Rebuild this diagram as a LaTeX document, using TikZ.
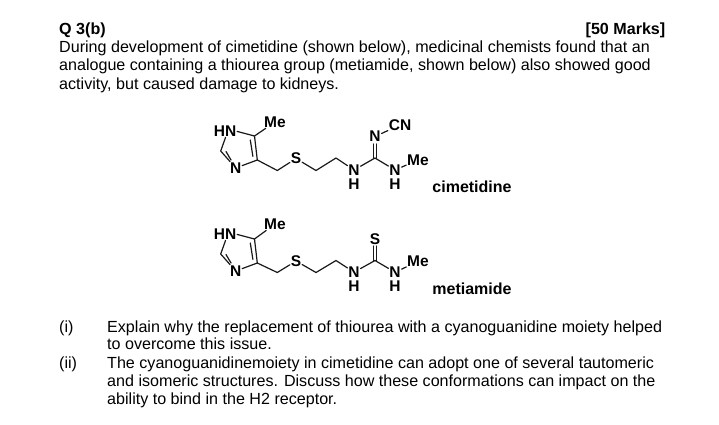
\documentclass[tikz,border=0pt]{standalone}
\usepackage{fontspec}
\setmainfont{Liberation Sans}
\usetikzlibrary{calc}
\tikzset{
  x=1pt,y=-1pt,
  txt/.style={anchor=base west,inner sep=0pt,font=\fontsize{16.1}{18}\selectfont},
  txtb/.style={txt,font=\fontsize{16.1}{18}\selectfont\bfseries},
  lab/.style={anchor=base,inner sep=0pt,font=\fontsize{16}{18}\selectfont\bfseries},
  atom/.style={inner sep=0pt,outer sep=1pt,font=\fontsize{15.5}{15.5}\selectfont\bfseries,text height=10.8pt,text depth=0pt},
  bond/.style={line width=1.2pt,line cap=round,line join=round,black!90}
}
\begin{document}
\begin{tikzpicture}
\useasboundingbox (0,0) rectangle (719,424);
\fill[white] (0,0) rectangle (719,424);
\node[txtb] (title) at (59,34) {Q 3(b)};
\node[txtb,anchor=base east] (marks) at (665.5,34) {[50 Marks]};
\node[txt] (l1) at (59,52) {During development of cimetidine (shown below), medicinal chemists found that an};
\node[txt] (l2) at (59,70.5) {analogue containing a thiourea group (metiamide, shown below) also showed good};
\node[txt] (l3) at (59,89) {activity, but caused damage to kidneys.};
% cimetidine
\begin{scope}
\node[atom] (hn) at (225,131) {HN};
\node[atom] (me) at (275,122) {Me};
\node[atom] (n3) at (235.7,168) {N};
\node[atom] (s) at (296,158.5) {S};
\node[atom] (na) at (354,170) {N};
\node[atom] (ha) at (354,184) {H};
\node[atom] (nb) at (395,170) {N};
\node[atom] (hb) at (395,184) {H};
\node[atom] (me2) at (418,160) {Me};
\node[atom] (ni) at (375,136.5) {N};
\node[atom] (cn) at (400,125) {CN};
\coordinate (c5) at (254.5,136);
\coordinate (c4) at (257.3,160);
\coordinate (c2) at (220.7,151);
\coordinate (m1) at (277.3,170.5);
\coordinate (m2) at (316,170.5);
\coordinate (m3) at (336,158);
\coordinate (cg) at (375,158);
\draw[bond] (hn.-2) -- (c5) -- (c4) -- (n3);
\draw[bond] (c5) -- (me);
\draw[bond] (hn.-85) -- (c2) -- (n3);
\draw[bond] (250.3,140) -- (252.9,156.5);
\draw[bond] (226,151.5) -- (231,160);
\draw[bond] (c4) -- (m1) -- (s) -- (m2) -- (m3) -- (na);
\draw[bond] (na) -- (cg) -- (nb) -- (me2);
\draw[bond] (373.3,158) -- (373.3,144);
\draw[bond] (376.7,158) -- (376.7,144);
\draw[bond] (ni) -- (cn);
\end{scope}
\node[lab] (cim) at (472,192) {cimetidine};
% metiamide
\begin{scope}
\node[atom] (hnq) at (225,234) {HN};
\node[atom] (meq) at (275,224) {Me};
\node[atom] (n3q) at (235.7,271) {N};
\node[atom] (sq) at (296,261) {S};
\node[atom] (naq) at (354,272.2) {N};
\node[atom] (haq) at (354,286.2) {H};
\node[atom] (nbq) at (395,272.2) {N};
\node[atom] (hbq) at (395,286.2) {H};
\node[atom] (me2q) at (418,261.5) {Me};
\node[atom] (st) at (375,239) {S};
\coordinate (c5q) at (254.5,239);
\coordinate (c4q) at (257.3,263);
\coordinate (c2q) at (220.7,254);
\coordinate (m1q) at (277.3,272.5);
\coordinate (m2q) at (316,272.5);
\coordinate (m3q) at (336,260.5);
\coordinate (cgq) at (375,260.5);
\draw[bond] (hnq.-2) -- (c5q) -- (c4q) -- (n3q);
\draw[bond] (c5q) -- (meq);
\draw[bond] (hnq.-85) -- (c2q) -- (n3q);
\draw[bond] (250.3,243) -- (252.9,259.5);
\draw[bond] (226,254.5) -- (231,263);
\draw[bond] (c4q) -- (m1q) -- (sq) -- (m2q) -- (m3q) -- (naq);
\draw[bond] (naq) -- (cgq) -- (nbq) -- (me2q);
\draw[bond] (373.3,260.5) -- (373.3,246);
\draw[bond] (376.7,260.5) -- (376.7,246);
\end{scope}
\node[lab] (met) at (472,294) {metiamide};
% questions
\node[txt] (i1) at (59,332) {(i)};
\node[txt] (q1) at (107,332) {Explain why the replacement of thiourea with a cyanoguanidine moiety helped};
\node[txt] (q2) at (107,349) {to overcome this issue.};
\node[txt] (i2) at (59,368) {(ii)};
\node[txt] (q3) at (107,368) {The cyanoguanidinemoiety in cimetidine can adopt one of several tautomeric};
\node[txt] (q4) at (107,386) {and isomeric structures. Discuss how these conformations can impact on the};
\node[txt] (q5) at (107,404) {ability to bind in the H2 receptor.};
\end{tikzpicture}
\end{document}
